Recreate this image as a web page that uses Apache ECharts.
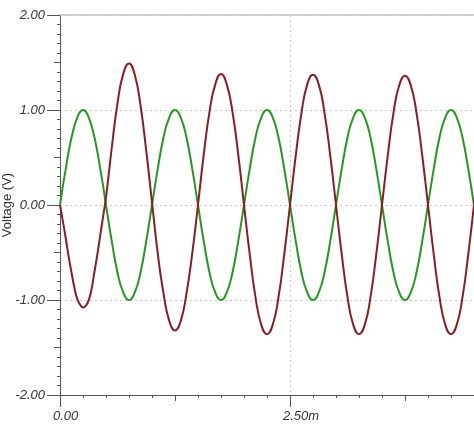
<!DOCTYPE html>
<html>
<head>
<meta charset="utf-8">
<script src="https://cdn.jsdelivr.net/npm/echarts@6/dist/echarts.min.js"></script>
<style>
html,body{margin:0;padding:0;background:#fff;}
#chart{width:474px;height:437px;}
</style>
</head>
<body>
<div id="chart"></div>
<script>
// time in ms (finer steps during the first half cycle)
const timeMs = [
  0, 0.03125, 0.0625, 0.09375, 0.125, 0.15625, 0.1875, 0.21875,
  0.25, 0.28125, 0.3125, 0.34375, 0.375, 0.40625, 0.4375, 0.46875,
  0.5, 0.5625, 0.625, 0.6875, 0.75, 0.8125, 0.875, 0.9375,
  1, 1.0625, 1.125, 1.1875, 1.25, 1.3125, 1.375, 1.4375,
  1.5, 1.5625, 1.625, 1.6875, 1.75, 1.8125, 1.875, 1.9375,
  2, 2.0625, 2.125, 2.1875, 2.25, 2.3125, 2.375, 2.4375,
  2.5, 2.5625, 2.625, 2.6875, 2.75, 2.8125, 2.875, 2.9375,
  3, 3.0625, 3.125, 3.1875, 3.25, 3.3125, 3.375, 3.4375,
  3.5, 3.5625, 3.625, 3.6875, 3.75, 3.8125, 3.875, 3.9375,
  4, 4.0625, 4.125, 4.1875, 4.25, 4.3125, 4.375, 4.4375,
  4.5, 4.5625, 4.625, 4.6875
];
// green trace (V)
const greenV = [
  0, 0.20, 0.38, 0.56, 0.71, 0.83, 0.92, 0.98,
  1, 0.98, 0.92, 0.83, 0.71, 0.56, 0.38, 0.20,
  0, -0.38, -0.71, -0.92, -1, -0.92, -0.71, -0.38,
  0, 0.38, 0.71, 0.92, 1, 0.92, 0.71, 0.38,
  0, -0.38, -0.71, -0.92, -1, -0.92, -0.71, -0.38,
  0, 0.38, 0.71, 0.92, 1, 0.92, 0.71, 0.38,
  0, -0.38, -0.71, -0.92, -1, -0.92, -0.71, -0.38,
  0, 0.38, 0.71, 0.92, 1, 0.92, 0.71, 0.38,
  0, -0.38, -0.71, -0.92, -1, -0.92, -0.71, -0.38,
  0, 0.38, 0.71, 0.92, 1, 0.92, 0.71, 0.38,
  0, -0.38, -0.71, -0.92
];
// red trace (V)
const redV = [
  0, -0.17, -0.35, -0.54, -0.71, -0.87, -0.99, -1.05,
  -1.08, -1.06, -1.00, -0.88, -0.70, -0.52, -0.32, -0.12,
  0.08, 0.60, 1.07, 1.38, 1.49, 1.37, 1.05, 0.57,
  0.03, -0.51, -0.93, -1.22, -1.32, -1.22, -0.93, -0.51,
  0, 0.53, 0.98, 1.27, 1.38, 1.27, 0.98, 0.53,
  0, -0.52, -0.97, -1.26, -1.36, -1.26, -0.97, -0.52,
  0, 0.52, 0.97, 1.27, 1.37, 1.27, 0.97, 0.52,
  0, -0.52, -0.97, -1.26, -1.36, -1.26, -0.97, -0.52,
  0, 0.52, 0.97, 1.26, 1.36, 1.26, 0.97, 0.52,
  0, -0.52, -0.97, -1.26, -1.36, -1.26, -0.97, -0.52,
  0, 0.52, 0.97, 1.26
];

const FONT = '"Liberation Sans", Arial, sans-serif';
const chart = echarts.init(document.getElementById('chart'), null, {renderer: 'canvas'});

const axisCol = '#555';
const gridCol = '#c8c8c8';

chart.setOption({
  animation: false,
  backgroundColor: '#fff',
  grid: {left: 60, right: -46, top: 15, bottom: 42, containLabel: false, outerBoundsMode: 'none'},
  xAxis: [
    {
      type: 'value', min: 0, max: 5, interval: 1.25,
      axisLine: {show: true, onZero: false, lineStyle: {color: axisCol, width: 1}},
      axisTick: {show: true, length: 6, lineStyle: {color: axisCol}},
      minorTick: {show: true, splitNumber: 5, length: 3, lineStyle: {color: axisCol}},
      axisLabel: {show: false},
      splitLine: {show: false}
    },
    {
      type: 'value', min: 0, max: 5, interval: 2.5, position: 'bottom',
      axisLine: {show: false, onZero: false},
      axisTick: {show: true, length: 12, lineStyle: {color: axisCol}},
      axisLabel: {
        show: true, margin: 15, fontSize: 13, fontStyle: 'italic',
        fontFamily: FONT, color: '#333', align: 'left', padding: [0, 0, 0, -7],
        formatter: v => v === 0 ? '0.00' : v.toFixed(2) + 'm'
      },
      splitLine: {show: true, lineStyle: {color: gridCol, type: [2, 3], width: 1}}
    },
    {
      type: 'value', min: 0, max: 5, position: 'top',
      axisLine: {show: true, onZero: false, lineStyle: {color: '#c4c4c4', width: 1.5}},
      axisTick: {show: false}, axisLabel: {show: false}, splitLine: {show: false}
    }
  ],
  yAxis: [
    {
      type: 'value', min: -2, max: 2, interval: 0.5,
      axisLine: {show: true, onZero: false, lineStyle: {color: axisCol, width: 1}},
      axisTick: {show: true, length: 6, lineStyle: {color: axisCol}},
      minorTick: {show: true, splitNumber: 5, length: 3, lineStyle: {color: axisCol}},
      axisLabel: {show: false},
      splitLine: {show: false},
      name: 'Voltage (V)', nameLocation: 'middle', nameRotate: 90, nameGap: 46,
      nameTextStyle: {fontSize: 13, fontFamily: FONT, color: '#333'}
    },
    {
      type: 'value', min: -2, max: 2, interval: 1, position: 'left',
      axisLine: {show: false, onZero: false},
      axisTick: {show: true, length: 13, lineStyle: {color: axisCol}},
      axisLabel: {
        show: true, margin: 15, fontSize: 13, fontStyle: 'italic',
        fontFamily: FONT, color: '#333',
        formatter: v => v.toFixed(2)
      },
      splitLine: {show: true, lineStyle: {color: gridCol, type: [2, 3], width: 1}}
    }
  ],
  series: [
    {
      type: 'line', xAxisIndex: 0, yAxisIndex: 0,
      data: timeMs.map((t, i) => [t, greenV[i]]),
      showSymbol: false, smooth: 0.5, clip: true,
      lineStyle: {color: '#229a22', width: 2}, z: 3
    },
    {
      type: 'line', xAxisIndex: 0, yAxisIndex: 0,
      data: timeMs.map((t, i) => [t, redV[i]]),
      showSymbol: false, smooth: 0.5, clip: true,
      lineStyle: {color: '#8e1b22', width: 2}, z: 4
    }
  ]
});
</script>
</body>
</html>
